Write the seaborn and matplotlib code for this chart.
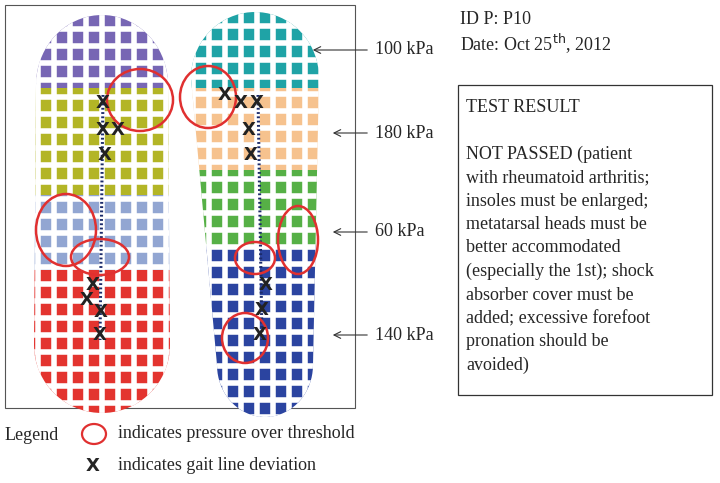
import numpy as np
import matplotlib
matplotlib.use("Agg")
import matplotlib.pyplot as plt
import seaborn as sns
from matplotlib.patches import Polygon, Rectangle, Ellipse

sns.set_theme(style="white")
plt.rcParams['font.family'] = ['Liberation Serif', 'DejaVu Serif']

pressures = ["100 kPa", "180 kPa", "60 kPa", "140 kPa"]
left_colors = ["#7766b4", "#b3b526", "#92a6d2", "#e3342f"]
left_bands = [15, 88, 195, 270, 420]
right_colors = ["#1fa3a6", "#f6c28e", "#56b046", "#2b44a0"]
right_bands = [12, 88, 170, 245, 420]
label_y = [50, 133, 232, 335]
arrow_tip_x = [310, 330, 330, 330]
left_x = [(103, 103), (103, 130), (118, 130), (105, 155), (93, 285), (87, 300), (101, 312), (100, 335)]
right_x = [(225, 95), (241, 103), (257, 103), (249, 130), (251, 155), (266, 285), (262, 310), (260, 335)]
left_circ = [(140, 100, 66, 62), (66, 230, 60, 72), (100, 257, 58, 36)]
right_circ = [(208, 97, 56, 62), (298, 240, 40, 68), (255, 258, 40, 32), (245, 338, 46, 50)]
result_lines = ["TEST RESULT", "", "NOT PASSED (patient", "with rheumatoid arthritis;",
                "insoles must be enlarged;", "metatarsal heads must be", "better accommodated",
                "(especially the 1st); shock", "absorber cover must be", "added; excessive forefoot",
                "pronation should be", "avoided)"]

fig = plt.figure(figsize=(7.2, 4.83), dpi=100)
ax = fig.add_axes([0, 0, 1, 1])
ax.set_xlim(0, 720); ax.set_ylim(483, 0); ax.axis("off")

def insole(ct, rt, cb, rb):
    t = np.linspace(np.pi, 2*np.pi, 40)
    top = np.c_[ct[0] + rt[0]*np.cos(t), ct[1] + rt[1]*np.sin(t)]
    t2 = np.linspace(0, np.pi, 40)
    bot = np.c_[cb[0] + rb[0]*np.cos(t2), cb[1] + rb[1]*np.sin(t2)]
    return np.vstack([top, bot])

def draw(pts, bands, colors, x0, x1):
    poly = Polygon(pts, closed=True, fc="none", ec="none")
    ax.add_patch(poly)
    for i, c in enumerate(colors):
        r = Rectangle((x0, bands[i]), x1 - x0, bands[i+1] - bands[i], fc=c, ec="none")
        ax.add_patch(r); r.set_clip_path(poly)
    for y in np.arange(bands[0] + 14, bands[-1], 17):
        l, = ax.plot([x0, x1], [y, y], color="white", lw=4); l.set_clip_path(poly)
    for x in np.arange(x0 + 8, x1, 16):
        l, = ax.plot([x, x], [bands[0], bands[-1]], color="white", lw=4); l.set_clip_path(poly)

ax.add_patch(Rectangle((5, 5), 350, 403, fc="white", ec="#555555", lw=0.8))
draw(insole((102, 85), (66, 70), (102, 345), (68, 68)), left_bands, left_colors, 30, 175)
draw(insole((255, 78), (64, 66), (265, 365), (48, 52)), right_bands, right_colors, 185, 325)

ax.plot([103, 100], [95, 340], color="#1a2a6a", lw=2.2, ls=(0, (0.6, 0.8)), zorder=4)
ax.plot([258, 262], [95, 340], color="#1a2a6a", lw=2.2, ls=(0, (0.6, 0.8)), zorder=4)
for (x, y, w, h) in left_circ + right_circ:
    ax.add_patch(Ellipse((x, y), w, h, fc="none", ec="#e03030", lw=1.8, zorder=5))
for (x, y) in left_x + right_x:
    ax.text(x, y, "X", fontsize=13, fontweight="bold", ha="center", va="center",
            family=["DejaVu Sans"], color="#222222", zorder=6)

for lab, y, tx in zip(pressures, label_y, arrow_tip_x):
    ax.annotate("", xy=(tx, y), xytext=(370, y),
                arrowprops=dict(arrowstyle="->", color="#333333", lw=0.8))
    ax.text(375, y, lab, fontsize=13, va="center")

ax.text(460, 20, "ID P: P10", fontsize=13, va="center")
ax.text(460, 44, "Date: Oct 25$^{\\mathrm{th}}$, 2012", fontsize=13, va="center")
ax.add_patch(Rectangle((458, 85), 254, 310, fc="white", ec="#333333", lw=0.9))
for i, s in enumerate(result_lines):
    ax.text(466, 107 + i*23.5, s, fontsize=13, va="center")

ax.text(5, 435, "Legend", fontsize=13, va="center")
ax.add_patch(Ellipse((94, 434), 24, 20, fc="none", ec="#e03030", lw=1.6))
ax.text(118, 434, "indicates pressure over threshold", fontsize=13, va="center")
ax.text(93, 466, "X", fontsize=13, fontweight="bold", ha="center", va="center", family=["DejaVu Sans"])
ax.text(118, 466, "indicates gait line deviation", fontsize=13, va="center")

fig.savefig("out.png", dpi=100)
